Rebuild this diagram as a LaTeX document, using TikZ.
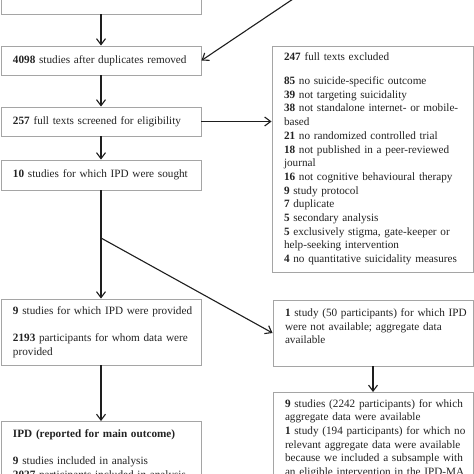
\documentclass[tikz,border=0pt]{standalone}
\usepackage{fontspec}
\setmainfont{Liberation Serif}
\usetikzlibrary{arrows.meta}
\definecolor{boxgray}{RGB}{165,165,165}
\definecolor{arrc}{RGB}{30,30,30}
\definecolor{txt}{RGB}{35,35,35}
\newcommand{\fsz}{\fontsize{11.2bp}{13.7bp}\selectfont}
\begin{document}
\begin{tikzpicture}[x=1bp,y=-1bp,
  box/.style={draw=boxgray, line width=0.9bp, inner xsep=12bp, inner ysep=0bp,
    text width=176bp, align=left, font=\fsz, text=txt},
  arr/.style={draw=arrc, line width=1.1bp, -{Straight Barb[length=6bp,width=9bp]}}]
\useasboundingbox (0,0) rectangle (474,474);
\fill[white] (0,0) rectangle (474,474);
% left column
\node[box, minimum height=54bp] (top) at (101,-13) {};
\node[box, minimum height=29bp] (dup) at (101,60.5) {\mbox{\textbf{4098} studies after duplicates removed}};
\node[box, minimum height=29bp] (scr) at (101,121.5) {\mbox{\textbf{257} full texts screened for eligibility}};
\node[box, minimum height=30bp] (sought) at (101,175) {\mbox{\textbf{10} studies for which IPD were sought}};
\node[box, minimum height=66bp] (prov) at (101,332) {\mbox{\textbf{9} studies for which IPD were provided}\\[13.7bp]\mbox{\textbf{2193} participants for whom data were}\\provided};
\node[box, anchor=north, inner ysep=6bp] (ipd) at (101,421) {\strut\textbf{IPD (reported for main outcome)}\\[13.7bp]\mbox{\textbf{9} studies included in analysis}\\\mbox{\textbf{2027} participants included in analysis}};
% right column
\node[box, text width=177bp, minimum height=226bp] (excl) at (372.5,159) {\mbox{\textbf{247} full texts excluded}\\[10bp]%
\mbox{\textbf{85} no suicide-specific outcome}\\
\mbox{\textbf{39} not targeting suicidality}\\
\mbox{\textbf{38} not standalone internet- or mobile-}\\
based\\
\mbox{\textbf{21} no randomized controlled trial}\\
\mbox{\textbf{18} not published in a peer-reviewed}\\
journal\\
\mbox{\textbf{16} not cognitive behavioural therapy}\\
\mbox{\textbf{9} study protocol}\\
\mbox{\textbf{7} duplicate}\\
\mbox{\textbf{5} secondary analysis}\\
\mbox{\textbf{5} exclusively stigma, gate-keeper or}\\
\mbox{help-seeking intervention}\\
\mbox{\textbf{4} no quantitative suicidality measures}};
\node[box, minimum height=66bp] (notav) at (373,333) {\mbox{\textbf{1} study (50 participants) for which IPD}\\\mbox{were not available; aggregate data}\\available\\\mbox{}};
\node[box, anchor=north, inner ysep=5bp] (agg) at (373,392) {\strut\mbox{\textbf{9} studies (2242 participants) for which}\\\mbox{aggregate data were available}\\\mbox{\textbf{1} study (194 participants) for which no}\\\mbox{relevant aggregate data were available}\\\mbox{because we included a subsample with}\\\mbox{an eligible intervention in the IPD-MA}};
% connectors
\coordinate (src) at (299,-5);
\coordinate (br) at (101,238);
\draw[arr] (top) -- (dup);
\draw[arr] (src) -- (dup.east);
\draw[arr] (dup) -- (scr);
\draw[arr] (scr) -- (sought);
\draw[arr] (scr.east) -- (scr.east -| excl.west);
\draw[arr] (sought) -- (prov);
\draw[arr] (br) -- (notav.west);
\draw[arr] (prov) -- (ipd);
\draw[arr] (notav) -- (agg);
\end{tikzpicture}
\end{document}
